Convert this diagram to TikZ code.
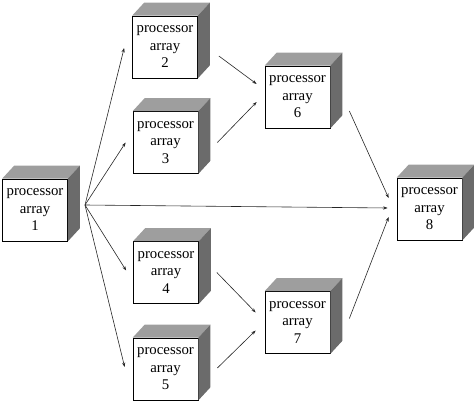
\documentclass[tikz,border=0pt]{standalone}
\usepackage{fontspec}
\setmainfont{Liberation Serif}
\usetikzlibrary{calc,arrows.meta}
\tikzset{
  pbox/.style={draw=black, line width=0.7pt, fill=white, minimum width=65pt, minimum height=62pt,
    inner sep=0pt, align=center, font=\fontsize{14.8}{17.5}\selectfont},
  topface/.style={fill=black!38},
  sideface/.style={fill=black!58},
  conn/.style={draw=black!85, line width=0.6pt, -{Stealth[length=4.5pt,width=3.2pt]}}
}
\begin{document}
\begin{tikzpicture}[x=1pt,y=-1pt]
\useasboundingbox (0,0) rectangle (474,404);
\node[pbox] (b1) at (35,210)    {processor\\array\\1};
\node[pbox] (b2) at (165,47)    {processor\\array\\2};
\node[pbox] (b3) at (165.5,142.5) {processor\\array\\3};
\node[pbox] (b4) at (166,272.5) {processor\\array\\4};
\node[pbox] (b5) at (165.5,369) {processor\\array\\5};
\node[pbox] (b6) at (297.5,97)  {processor\\array\\6};
\node[pbox] (b7) at (297.5,322.5) {processor\\array\\7};
\node[pbox] (b8) at (429.5,209) {processor\\array\\8};
\foreach \n in {1,...,8}{
  \fill[topface] (b\n.north west) -- ++(12,-13) -- ($(b\n.north east)+(12,-13)$) -- (b\n.north east) -- cycle;
  \fill[sideface] (b\n.north east) -- ++(12,-13) -- ($(b\n.south east)+(12,-13)$) -- (b\n.south east) -- cycle;
}
\coordinate (fan) at (85,205);
\draw[conn] (fan) -- ($(b2.west)+(-8,1)$);
\draw[conn] (fan) -- ($(b3.west)+(-7,0)$);
\draw[conn] (fan) -- ($(b4.west)+(-7,-2)$);
\draw[conn] (fan) -- ($(b5.west)+(-8,-2)$);
\draw[conn] (fan) -- ($(b8.west)+(-9,-1)$);
\draw[conn] ($(b2.east)+(21,9)$) -- ($(b6.west)+(-8,-13)$);
\draw[conn] ($(b3.east)+(19,0)$) -- ($(b6.west)+(-8,5)$);
\draw[conn] ($(b4.east)+(18,0)$) -- ($(b7.west)+(-9,-10)$);
\draw[conn] ($(b5.east)+(19,-1)$) -- ($(b7.west)+(-9,8)$);
\draw[conn] ($(b6.east)+(19,14)$) -- ($(b8.west)+(-8,-11)$);
\draw[conn] ($(b7.east)+(19,-4)$) -- ($(b8.west)+(-8,8)$);
\end{tikzpicture}
\end{document}
